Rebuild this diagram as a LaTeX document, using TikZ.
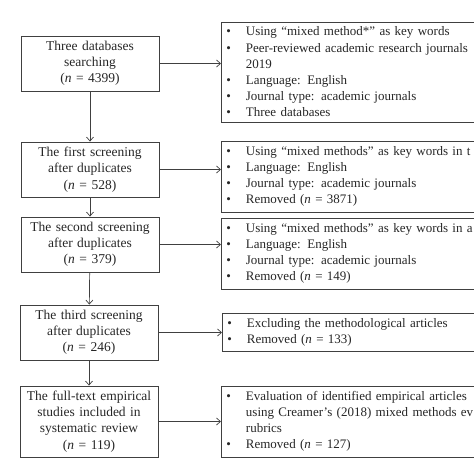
\documentclass[tikz,border=0pt]{standalone}
\usepackage{fontspec}
\setmainfont{Liberation Serif}
\usetikzlibrary{arrows.meta, positioning}

\newcommand{\bul}{\makebox[19.5pt][l]{\textbullet}}
\newcommand{\cont}{\hspace*{19.5pt}}

\begin{document}
\begin{tikzpicture}[
  x=1pt, y=-1pt,
  every node/.style={font=\fontsize{13.5}{16.2}\selectfont, text=black!85},
  stage/.style={draw=black!75, line width=0.9pt, text width=132pt,
                inner xsep=3pt, inner ysep=3pt, align=center, minimum height=55pt},
  crit/.style={draw=black!75, line width=0.9pt, anchor=west, text width=290pt,
               inner xsep=5pt, inner ysep=2pt, align=left,
               font=\fontsize{13}{16.2}\selectfont},
  flow/.style={-{Straight Barb[length=4pt,width=7pt]}, black!75, line width=0.7pt}
]
\useasboundingbox (0,0) rectangle (474,474);
\clip (0,0) rectangle (474,474);

%% screening stages (left column)
\node[stage] (s1) at (90,63.5)  {Three databases\\searching\\(\textit{n} = 4399)};
\node[stage] (s2) at (90,169.5) {The first screening\\after duplicates\\(\textit{n} = 528)};
\node[stage] (s3) at (90,244.5) {The second screening\\after duplicates\\(\textit{n} = 379)};
\node[stage] (s4) at (89,332.5) {The third screening\\after duplicates\\(\textit{n} = 246)};
\node[stage, minimum height=71pt] (s5) at (89,421.5)
  {The full-text empirical\\studies included in\\systematic review\\(\textit{n} = 119)};

%% criteria boxes (right column)
\node[crit, minimum height=100pt] (c1) at (221,72) {%
  \bul Using “mixed method*” as key words\\
  \bul Peer-reviewed academic research journals\\
  \cont 2019\\
  \bul Language: English\\
  \bul Journal type: academic journals\\
  \bul Three databases};
\node[crit, minimum height=71pt] (c2) at (221,176.5) {%
  \bul Using “mixed methods” as key words in t\\
  \bul Language: English\\
  \bul Journal type: academic journals\\
  \bul Removed (\textit{n} = 3871)};
\node[crit, minimum height=71pt] (c3) at (221,253.5) {%
  \bul Using “mixed methods” as key words in a\\
  \bul Language: English\\
  \bul Journal type: academic journals\\
  \bul Removed (\textit{n} = 149)};
\node[crit, minimum height=38pt] (c4) at (222,332) {%
  \bul Excluding the methodological articles\\
  \bul Removed (\textit{n} = 133)};
\node[crit, minimum height=71pt] (c5) at (221,421.5) {%
  \bul Evaluation of identified empirical articles\\
  \cont using Creamer’s (2018) mixed methods ev\\
  \cont rubrics\\
  \bul Removed (\textit{n} = 127)};

%% flow down
\foreach \a/\b in {s1/s2, s2/s3, s3/s4, s4/s5}
  \draw[flow] (\a) -- (\b);

%% exclusions to the right
\foreach \a/\b in {s1/c1, s2/c2, s3/c3, s4/c4, s5/c5}
  \draw[flow] (\a.east) -- (\a.east -| \b.west);
\end{tikzpicture}
\end{document}
